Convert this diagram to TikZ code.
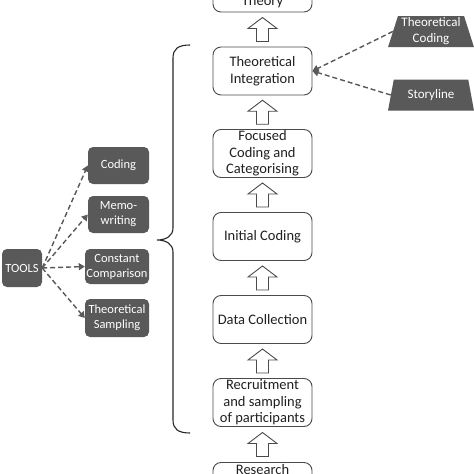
\documentclass[tikz,border=0pt]{standalone}
\usepackage{fontspec}
\setmainfont{Carlito}
\usetikzlibrary{shapes.geometric,arrows.meta,calc}
\definecolor{dk}{HTML}{595959}
\definecolor{edge}{HTML}{4A4A4A}
\definecolor{tx}{HTML}{202020}
\begin{document}
\begin{tikzpicture}[x=1pt,y=-1pt,
 mainbox/.style={draw=edge, line width=0.9pt, rounded corners=8pt, minimum width=99pt, minimum height=48pt, align=center, inner sep=0pt, text=tx, font=\fontsize{14.5}{16.5}\selectfont},
 toolbox/.style={fill=dk, draw=none, rounded corners=5pt, text=white, align=center, inner sep=0pt, font=\fontsize{12.5}{15}\selectfont},
 trap/.style={trapezium, trapezium angle=72, trapezium stretches=true, fill=dk, text=white, align=center, inner sep=0pt, minimum width=86pt, minimum height=31pt, font=\fontsize{13}{16}\selectfont},
 dasharrow/.style={draw=dk, line width=1.4pt, dash pattern=on 5pt off 3pt, -{Triangle[length=6pt,width=7pt]}},
 upblock/.pic={\draw[draw=edge, fill=white, line width=0.9pt] (-6,12) -- (-6,-1) -- (-14.5,-1) -- (0,-12) -- (14.5,-1) -- (6,-1) -- (6,12) -- cycle;}
]
\clip (0,0) rectangle (474,474);
\fill[white] (0,0) rectangle (474,474);

% main column
\node[mainbox] (th) at (262.5,-12) {\mbox{}\\[21pt]Theory};
\node[mainbox] (ti) at (262.5,71) {Theoretical\\Integration};
\node[mainbox] (fc) at (262.5,153.5) {Focused\\Coding and\\Categorising};
\node[mainbox] (ic) at (262.5,236.5) {Initial Coding};
\node[mainbox] (dc) at (262.5,319.5) {Data Collection};
\node[mainbox] (rs) at (262.5,402.5) {Recruitment\\and sampling\\of participants};
\node[mainbox] (rq) at (262.5,486.5) {Research\\[1pt]\mbox{}\\\mbox{}};

\pic at ($(ti.north)!0.5!(th.south)$) {upblock};
\pic at ($(fc.north)!0.5!(ti.south)$) {upblock};
\pic at ($(ic.north)!0.5!(fc.south)$) {upblock};
\pic at ($(dc.north)!0.5!(ic.south)$) {upblock};
\pic at ($(rs.north)!0.5!(dc.south)$) {upblock};
\pic at ($(rq.north)!0.5!(rs.south)$) {upblock};

% brace
\draw[line width=1.1pt, black!85] (190,45) .. controls (178,45) and (173,49) .. (173,58) -- (173,228) .. controls (173,236) and (166,240) .. (157,240) .. controls (166,240) and (173,244) .. (173,252) -- (173,420) .. controls (173,429) and (178,433) .. (190,433);

% tools
\node[toolbox, minimum width=40pt, minimum height=38pt] (tools) at (22,268) {TOOLS};
\node[toolbox, minimum width=61pt, minimum height=37pt] (cod) at (118.5,165.5) {Coding};
\node[toolbox, minimum width=61pt, minimum height=37pt] (memo) at (118.5,214.5) {Memo-\\writing};
\node[toolbox, minimum width=64pt, minimum height=35pt] (cc) at (117,266.5) {Constant\\Comparison};
\node[toolbox, minimum width=64pt, minimum height=38pt] (ts) at (117,318) {Theoretical\\Sampling};

\draw[dasharrow] (tools.east) -- (cod.west);
\draw[dasharrow] (tools.east) -- (memo.west);
\draw[dasharrow] (tools.east) -- (cc.west);
\draw[dasharrow] (tools.east) -- (ts.west);

% right side
\node[trap] (tc) at (431,31.5) {Theoretical\\Coding};
\node[trap] (sl) at (431,95) {Storyline};
\draw[dasharrow] (tc.west) -- (ti.east);
\draw[dasharrow] (sl.west) -- (ti.east);
\end{tikzpicture}
\end{document}
